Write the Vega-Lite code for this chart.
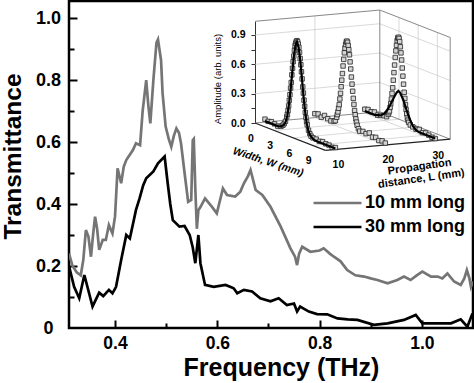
{
  "$schema": "https://vega.github.io/schema/vega-lite/v6.json",
  "width": 404,
  "height": 327,
  "autosize": {"type": "none"},
  "padding": {"left": 69, "top": 1, "right": 1, "bottom": 55},
  "config": {"font": "Liberation Sans", "view": {"stroke": "black", "strokeWidth": 2.5}},
  "datasets": {
    "main": [
      {"s":"10 mm long","f":0.310,"t":0.24},{"s":"10 mm long","f":0.317,"t":0.20},{"s":"10 mm long","f":0.325,"t":0.18},{"s":"10 mm long","f":0.333,"t":0.17},{"s":"10 mm long","f":0.338,"t":0.22},{"s":"10 mm long","f":0.343,"t":0.316},{"s":"10 mm long","f":0.348,"t":0.295},{"s":"10 mm long","f":0.353,"t":0.23},{"s":"10 mm long","f":0.357,"t":0.30},{"s":"10 mm long","f":0.361,"t":0.359},{"s":"10 mm long","f":0.365,"t":0.32},{"s":"10 mm long","f":0.369,"t":0.252},{"s":"10 mm long","f":0.376,"t":0.284},{"s":"10 mm long","f":0.382,"t":0.284},{"s":"10 mm long","f":0.388,"t":0.332},{"s":"10 mm long","f":0.395,"t":0.305},{"s":"10 mm long","f":0.400,"t":0.36},{"s":"10 mm long","f":0.405,"t":0.515},{"s":"10 mm long","f":0.412,"t":0.467},{"s":"10 mm long","f":0.417,"t":0.52},{"s":"10 mm long","f":0.422,"t":0.542},{"s":"10 mm long","f":0.435,"t":0.574},{"s":"10 mm long","f":0.441,"t":0.596},{"s":"10 mm long","f":0.449,"t":0.59},{"s":"10 mm long","f":0.454,"t":0.70},{"s":"10 mm long","f":0.461,"t":0.80},{"s":"10 mm long","f":0.465,"t":0.72},{"s":"10 mm long","f":0.469,"t":0.66},{"s":"10 mm long","f":0.475,"t":0.80},{"s":"10 mm long","f":0.481,"t":0.92},{"s":"10 mm long","f":0.484,"t":0.931},{"s":"10 mm long","f":0.490,"t":0.864},{"s":"10 mm long","f":0.493,"t":0.757},{"s":"10 mm long","f":0.499,"t":0.65},{"s":"10 mm long","f":0.505,"t":0.61},{"s":"10 mm long","f":0.510,"t":0.585},{"s":"10 mm long","f":0.515,"t":0.62},{"s":"10 mm long","f":0.520,"t":0.644},{"s":"10 mm long","f":0.525,"t":0.63},{"s":"10 mm long","f":0.529,"t":0.596},{"s":"10 mm long","f":0.536,"t":0.50},{"s":"10 mm long","f":0.543,"t":0.407},{"s":"10 mm long","f":0.549,"t":0.413},{"s":"10 mm long","f":0.552,"t":0.606},{"s":"10 mm long","f":0.554,"t":0.61},{"s":"10 mm long","f":0.557,"t":0.45},{"s":"10 mm long","f":0.560,"t":0.32},{"s":"10 mm long","f":0.563,"t":0.38},{"s":"10 mm long","f":0.567,"t":0.39},{"s":"10 mm long","f":0.576,"t":0.418},{"s":"10 mm long","f":0.590,"t":0.39},{"s":"10 mm long","f":0.599,"t":0.37},{"s":"10 mm long","f":0.611,"t":0.45},{"s":"10 mm long","f":0.619,"t":0.429},{"s":"10 mm long","f":0.635,"t":0.424},{"s":"10 mm long","f":0.645,"t":0.44},{"s":"10 mm long","f":0.652,"t":0.467},{"s":"10 mm long","f":0.660,"t":0.49},{"s":"10 mm long","f":0.665,"t":0.51},{"s":"10 mm long","f":0.675,"t":0.445},{"s":"10 mm long","f":0.688,"t":0.429},{"s":"10 mm long","f":0.704,"t":0.391},{"s":"10 mm long","f":0.724,"t":0.327},{"s":"10 mm long","f":0.743,"t":0.257},{"s":"10 mm long","f":0.752,"t":0.23},{"s":"10 mm long","f":0.756,"t":0.203},{"s":"10 mm long","f":0.760,"t":0.24},{"s":"10 mm long","f":0.766,"t":0.262},{"s":"10 mm long","f":0.782,"t":0.246},{"s":"10 mm long","f":0.800,"t":0.25},{"s":"10 mm long","f":0.808,"t":0.257},{"s":"10 mm long","f":0.820,"t":0.24},{"s":"10 mm long","f":0.828,"t":0.23},{"s":"10 mm long","f":0.841,"t":0.215},{"s":"10 mm long","f":0.854,"t":0.187},{"s":"10 mm long","f":0.870,"t":0.17},{"s":"10 mm long","f":0.887,"t":0.166},{"s":"10 mm long","f":0.900,"t":0.16},{"s":"10 mm long","f":0.913,"t":0.155},{"s":"10 mm long","f":0.933,"t":0.144},{"s":"10 mm long","f":0.952,"t":0.155},{"s":"10 mm long","f":0.965,"t":0.166},{"s":"10 mm long","f":0.978,"t":0.155},{"s":"10 mm long","f":0.990,"t":0.17},{"s":"10 mm long","f":1.001,"t":0.182},{"s":"10 mm long","f":1.018,"t":0.166},{"s":"10 mm long","f":1.031,"t":0.166},{"s":"10 mm long","f":1.040,"t":0.16},{"s":"10 mm long","f":1.050,"t":0.176},{"s":"10 mm long","f":1.063,"t":0.15},{"s":"10 mm long","f":1.076,"t":0.139},{"s":"10 mm long","f":1.083,"t":0.16},{"s":"10 mm long","f":1.088,"t":0.187},{"s":"10 mm long","f":1.093,"t":0.16},{"s":"10 mm long","f":1.096,"t":0.133},{"s":"10 mm long","f":1.100,"t":0.15},
      {"s":"30 mm long","f":0.310,"t":0.20},{"s":"30 mm long","f":0.320,"t":0.133},{"s":"30 mm long","f":0.330,"t":0.096},{"s":"30 mm long","f":0.340,"t":0.171},{"s":"30 mm long","f":0.346,"t":0.133},{"s":"30 mm long","f":0.356,"t":0.069},{"s":"30 mm long","f":0.362,"t":0.09},{"s":"30 mm long","f":0.369,"t":0.114},{"s":"30 mm long","f":0.377,"t":0.103},{"s":"30 mm long","f":0.388,"t":0.123},{"s":"30 mm long","f":0.395,"t":0.112},{"s":"30 mm long","f":0.402,"t":0.133},{"s":"30 mm long","f":0.412,"t":0.219},{"s":"30 mm long","f":0.422,"t":0.30},{"s":"30 mm long","f":0.429,"t":0.289},{"s":"30 mm long","f":0.441,"t":0.381},{"s":"30 mm long","f":0.448,"t":0.418},{"s":"30 mm long","f":0.455,"t":0.46},{"s":"30 mm long","f":0.461,"t":0.483},{"s":"30 mm long","f":0.475,"t":0.505},{"s":"30 mm long","f":0.484,"t":0.531},{"s":"30 mm long","f":0.497,"t":0.553},{"s":"30 mm long","f":0.503,"t":0.467},{"s":"30 mm long","f":0.508,"t":0.40},{"s":"30 mm long","f":0.513,"t":0.348},{"s":"30 mm long","f":0.526,"t":0.327},{"s":"30 mm long","f":0.536,"t":0.329},{"s":"30 mm long","f":0.546,"t":0.30},{"s":"30 mm long","f":0.552,"t":0.26},{"s":"30 mm long","f":0.557,"t":0.209},{"s":"30 mm long","f":0.563,"t":0.30},{"s":"30 mm long","f":0.567,"t":0.209},{"s":"30 mm long","f":0.576,"t":0.139},{"s":"30 mm long","f":0.593,"t":0.133},{"s":"30 mm long","f":0.616,"t":0.139},{"s":"30 mm long","f":0.625,"t":0.133},{"s":"30 mm long","f":0.632,"t":0.128},{"s":"30 mm long","f":0.639,"t":0.112},{"s":"30 mm long","f":0.652,"t":0.123},{"s":"30 mm long","f":0.668,"t":0.118},{"s":"30 mm long","f":0.684,"t":0.096},{"s":"30 mm long","f":0.704,"t":0.086},{"s":"30 mm long","f":0.720,"t":0.096},{"s":"30 mm long","f":0.736,"t":0.074},{"s":"30 mm long","f":0.750,"t":0.079},{"s":"30 mm long","f":0.756,"t":0.053},{"s":"30 mm long","f":0.762,"t":0.069},{"s":"30 mm long","f":0.779,"t":0.053},{"s":"30 mm long","f":0.795,"t":0.045},{"s":"30 mm long","f":0.815,"t":0.044},{"s":"30 mm long","f":0.835,"t":0.031},{"s":"30 mm long","f":0.855,"t":0.028},{"s":"30 mm long","f":0.874,"t":0.026},{"s":"30 mm long","f":0.906,"t":0.01},{"s":"30 mm long","f":0.933,"t":0.015},{"s":"30 mm long","f":0.965,"t":0.026},{"s":"30 mm long","f":0.988,"t":0.042},{"s":"30 mm long","f":1.001,"t":0.015},{"s":"30 mm long","f":1.031,"t":0.015},{"s":"30 mm long","f":1.057,"t":0.015},{"s":"30 mm long","f":1.076,"t":0.028},{"s":"30 mm long","f":1.089,"t":0.004},{"s":"30 mm long","f":1.099,"t":0.047}
    ],
    "edges": [
      {"g":"b1","k":"box","W":0,"L":8,"A":1.04},{"g":"b1","k":"box","W":0,"L":33,"A":1.04},
      {"g":"b2","k":"box","W":0,"L":33,"A":0},{"g":"b2","k":"box","W":0,"L":33,"A":1.04},
      {"g":"b3","k":"box","W":0,"L":33,"A":1.04},{"g":"b3","k":"box","W":11,"L":33,"A":1.04},
      {"g":"b4","k":"box","W":11,"L":33,"A":0},{"g":"b4","k":"box","W":11,"L":33,"A":1.04},
      {"g":"b5","k":"box","W":0,"L":8,"A":0},{"g":"b5","k":"box","W":0,"L":33,"A":0},
      {"g":"b6","k":"box","W":0,"L":33,"A":0},{"g":"b6","k":"box","W":11,"L":33,"A":0},
      {"g":"a1","k":"axis","W":0,"L":8,"A":0},{"g":"a1","k":"axis","W":11,"L":8,"A":0},
      {"g":"a2","k":"axis","W":11,"L":8,"A":0},{"g":"a2","k":"axis","W":11,"L":33,"A":0},
      {"g":"g1","k":"grid","W":0,"L":8,"A":0.3},{"g":"g1","k":"grid","W":0,"L":33,"A":0.3},
      {"g":"g2","k":"grid","W":0,"L":8,"A":0.6},{"g":"g2","k":"grid","W":0,"L":33,"A":0.6},
      {"g":"g3","k":"grid","W":0,"L":8,"A":0.9},{"g":"g3","k":"grid","W":0,"L":33,"A":0.9},
      {"g":"g4","k":"grid","W":0,"L":20,"A":0},{"g":"g4","k":"grid","W":0,"L":20,"A":1.04},
      {"g":"g6","k":"grid","W":0,"L":33,"A":0.3},{"g":"g6","k":"grid","W":11,"L":33,"A":0.3},
      {"g":"g7","k":"grid","W":0,"L":33,"A":0.6},{"g":"g7","k":"grid","W":11,"L":33,"A":0.6},
      {"g":"g8","k":"grid","W":0,"L":33,"A":0.9},{"g":"g8","k":"grid","W":11,"L":33,"A":0.9},
      {"g":"g9","k":"grid","W":3,"L":33,"A":0},{"g":"g9","k":"grid","W":3,"L":33,"A":1.04},
      {"g":"g10","k":"grid","W":6,"L":33,"A":0},{"g":"g10","k":"grid","W":6,"L":33,"A":1.04},
      {"g":"g11","k":"grid","W":9,"L":33,"A":0},{"g":"g11","k":"grid","W":9,"L":33,"A":1.04},
      {"g":"g12","k":"grid","W":3,"L":8,"A":0},{"g":"g12","k":"grid","W":3,"L":33,"A":0},
      {"g":"g13","k":"grid","W":6,"L":8,"A":0},{"g":"g13","k":"grid","W":6,"L":33,"A":0},
      {"g":"g14","k":"grid","W":9,"L":8,"A":0},{"g":"g14","k":"grid","W":9,"L":33,"A":0},
      {"g":"g15","k":"grid","W":0,"L":20,"A":0},{"g":"g15","k":"grid","W":11,"L":20,"A":0},
      {"g":"g16","k":"grid","W":0,"L":30,"A":0},{"g":"g16","k":"grid","W":11,"L":30,"A":0}
    ],
    "pts": [
      {"L":30,"W":0,"A":0.04},{"L":30,"W":0.5,"A":0.05},{"L":30,"W":1,"A":0.04},{"L":30,"W":1.5,"A":0.05},{"L":30,"W":2,"A":0.03},{"L":30,"W":2.5,"A":0.04},{"L":30,"W":3,"A":0.05},{"L":30,"W":3.4,"A":0.05},{"L":30,"W":3.65,"A":0.08},{"L":30,"W":3.75,"A":0.10},{"L":30,"W":3.85,"A":0.12},{"L":30,"W":3.95,"A":0.16},{"L":30,"W":4.05,"A":0.2},{"L":30,"W":4.15,"A":0.25},{"L":30,"W":4.25,"A":0.31},{"L":30,"W":4.35,"A":0.37},{"L":30,"W":4.45,"A":0.45},{"L":30,"W":4.55,"A":0.53},{"L":30,"W":4.65,"A":0.61},{"L":30,"W":4.75,"A":0.69},{"L":30,"W":4.85,"A":0.76},{"L":30,"W":4.95,"A":0.82},{"L":30,"W":5.05,"A":0.87},{"L":30,"W":5.15,"A":0.90},{"L":30,"W":5.25,"A":0.91},{"L":30,"W":5.35,"A":0.90},{"L":30,"W":5.45,"A":0.87},{"L":30,"W":5.55,"A":0.82},{"L":30,"W":5.65,"A":0.76},{"L":30,"W":5.75,"A":0.69},{"L":30,"W":5.85,"A":0.61},{"L":30,"W":5.95,"A":0.53},{"L":30,"W":6.05,"A":0.45},{"L":30,"W":6.15,"A":0.37},{"L":30,"W":6.25,"A":0.31},{"L":30,"W":6.35,"A":0.25},{"L":30,"W":6.45,"A":0.2},{"L":30,"W":6.55,"A":0.16},{"L":30,"W":6.65,"A":0.12},{"L":30,"W":6.75,"A":0.10},{"L":30,"W":6.85,"A":0.08},{"L":30,"W":7.1,"A":0.06},{"L":30,"W":7.5,"A":0.05},{"L":30,"W":8,"A":0.04},{"L":30,"W":8.5,"A":0.05},{"L":30,"W":9,"A":0.03},{"L":30,"W":9.5,"A":0.04},{"L":30,"W":10,"A":0.03},{"L":30,"W":10.5,"A":0.02},{"L":30,"W":11,"A":0.02},
      {"L":20,"W":0,"A":0.04},{"L":20,"W":0.5,"A":0.05},{"L":20,"W":1,"A":0.03},{"L":20,"W":1.5,"A":0.06},{"L":20,"W":2,"A":0.04},{"L":20,"W":2.5,"A":0.03},{"L":20,"W":3,"A":0.04},{"L":20,"W":3.2,"A":0.05},{"L":20,"W":3.4,"A":0.09},{"L":20,"W":3.5,"A":0.12},{"L":20,"W":3.6,"A":0.15},{"L":20,"W":3.7,"A":0.19},{"L":20,"W":3.8,"A":0.23},{"L":20,"W":3.9,"A":0.29},{"L":20,"W":4.0,"A":0.35},{"L":20,"W":4.1,"A":0.42},{"L":20,"W":4.2,"A":0.49},{"L":20,"W":4.3,"A":0.56},{"L":20,"W":4.4,"A":0.64},{"L":20,"W":4.5,"A":0.71},{"L":20,"W":4.6,"A":0.78},{"L":20,"W":4.7,"A":0.83},{"L":20,"W":4.8,"A":0.87},{"L":20,"W":4.9,"A":0.90},{"L":20,"W":5.0,"A":0.91},{"L":20,"W":5.1,"A":0.90},{"L":20,"W":5.2,"A":0.87},{"L":20,"W":5.3,"A":0.83},{"L":20,"W":5.4,"A":0.78},{"L":20,"W":5.5,"A":0.71},{"L":20,"W":5.6,"A":0.64},{"L":20,"W":5.7,"A":0.56},{"L":20,"W":5.8,"A":0.49},{"L":20,"W":5.9,"A":0.42},{"L":20,"W":6.0,"A":0.35},{"L":20,"W":6.1,"A":0.29},{"L":20,"W":6.2,"A":0.23},{"L":20,"W":6.3,"A":0.19},{"L":20,"W":6.4,"A":0.15},{"L":20,"W":6.5,"A":0.12},{"L":20,"W":6.6,"A":0.09},{"L":20,"W":6.8,"A":0.06},{"L":20,"W":7.0,"A":0.04},{"L":20,"W":7.5,"A":0.05},{"L":20,"W":8,"A":0.04},{"L":20,"W":8.5,"A":0.06},{"L":20,"W":9,"A":0.03},{"L":20,"W":9.5,"A":0.04},{"L":20,"W":10,"A":0.02},{"L":20,"W":10.5,"A":0.03},{"L":20,"W":11,"A":0.02},
      {"L":10,"W":0,"A":0.03},{"L":10,"W":0.5,"A":0.02},{"L":10,"W":1,"A":0.03},{"L":10,"W":1.5,"A":0.02},{"L":10,"W":2,"A":0.01},{"L":10,"W":2.5,"A":0.02},{"L":10,"W":2.8,"A":0.04},{"L":10,"W":3.0,"A":0.06},{"L":10,"W":3.2,"A":0.09},{"L":10,"W":3.4,"A":0.14},{"L":10,"W":3.5,"A":0.17},{"L":10,"W":3.6,"A":0.21},{"L":10,"W":3.7,"A":0.26},{"L":10,"W":3.8,"A":0.32},{"L":10,"W":3.9,"A":0.38},{"L":10,"W":4.0,"A":0.45},{"L":10,"W":4.1,"A":0.51},{"L":10,"W":4.2,"A":0.59},{"L":10,"W":4.3,"A":0.66},{"L":10,"W":4.4,"A":0.73},{"L":10,"W":4.5,"A":0.79},{"L":10,"W":4.6,"A":0.85},{"L":10,"W":4.7,"A":0.90},{"L":10,"W":4.8,"A":0.93},{"L":10,"W":4.9,"A":0.95},{"L":10,"W":5.0,"A":0.96},{"L":10,"W":5.1,"A":0.95},{"L":10,"W":5.2,"A":0.93},{"L":10,"W":5.3,"A":0.90},{"L":10,"W":5.4,"A":0.85},{"L":10,"W":5.5,"A":0.79},{"L":10,"W":5.6,"A":0.73},{"L":10,"W":5.7,"A":0.66},{"L":10,"W":5.8,"A":0.59},{"L":10,"W":5.9,"A":0.51},{"L":10,"W":6.0,"A":0.45},{"L":10,"W":6.1,"A":0.38},{"L":10,"W":6.2,"A":0.32},{"L":10,"W":6.3,"A":0.26},{"L":10,"W":6.4,"A":0.21},{"L":10,"W":6.5,"A":0.17},{"L":10,"W":6.6,"A":0.14},{"L":10,"W":6.8,"A":0.09},{"L":10,"W":7.0,"A":0.06},{"L":10,"W":7.2,"A":0.04},{"L":10,"W":7.5,"A":0.03},{"L":10,"W":8,"A":0.03},{"L":10,"W":8.5,"A":0.02},{"L":10,"W":9,"A":0.03},{"L":10,"W":9.5,"A":0.02},{"L":10,"W":10,"A":0.02},{"L":10,"W":10.5,"A":0.01},{"L":10,"W":11,"A":0.02}
    ],
    "fits": [
      {"L":10,"W":0,"A":0.01},{"L":10,"W":1,"A":0.01},{"L":10,"W":2,"A":0.01},{"L":10,"W":2.5,"A":0.02},{"L":10,"W":3,"A":0.05},{"L":10,"W":3.25,"A":0.09},{"L":10,"W":3.5,"A":0.16},{"L":10,"W":3.75,"A":0.28},{"L":10,"W":4,"A":0.43},{"L":10,"W":4.25,"A":0.61},{"L":10,"W":4.5,"A":0.78},{"L":10,"W":4.75,"A":0.9},{"L":10,"W":5,"A":0.95},{"L":10,"W":5.25,"A":0.9},{"L":10,"W":5.5,"A":0.78},{"L":10,"W":5.75,"A":0.61},{"L":10,"W":6,"A":0.43},{"L":10,"W":6.25,"A":0.28},{"L":10,"W":6.5,"A":0.16},{"L":10,"W":6.75,"A":0.09},{"L":10,"W":7,"A":0.05},{"L":10,"W":7.5,"A":0.02},{"L":10,"W":8,"A":0.01},{"L":10,"W":9,"A":0.01},{"L":10,"W":11,"A":0.01},
      {"L":30,"W":0,"A":0.02},{"L":30,"W":1,"A":0.02},{"L":30,"W":1.5,"A":0.02},{"L":30,"W":2,"A":0.03},{"L":30,"W":2.5,"A":0.04},{"L":30,"W":3,"A":0.07},{"L":30,"W":3.5,"A":0.12},{"L":30,"W":4,"A":0.19},{"L":30,"W":4.5,"A":0.27},{"L":30,"W":5,"A":0.34},{"L":30,"W":5.25,"A":0.36},{"L":30,"W":5.5,"A":0.35},{"L":30,"W":6,"A":0.29},{"L":30,"W":6.5,"A":0.2},{"L":30,"W":7,"A":0.12},{"L":30,"W":7.5,"A":0.06},{"L":30,"W":8,"A":0.03},{"L":30,"W":8.5,"A":0.02},{"L":30,"W":9,"A":0.02},{"L":30,"W":11,"A":0.02}
    ],
    "wlab": [{"t":"0","W":0,"L":8,"A":0},{"t":"3","W":3,"L":8,"A":0},{"t":"6","W":6,"L":8,"A":0},{"t":"9","W":9,"L":8,"A":0}],
    "llab": [{"t":"10","W":11,"L":10,"A":0},{"t":"20","W":11,"L":20,"A":0},{"t":"30","W":11,"L":30,"A":0}],
    "atitle": [{"t":"Amplitude (arb. units)","W":0,"L":8,"A":0.45}],
    "wtitle": [{"t":"Width, W (mm)","W":3,"L":8,"A":0}],
    "ltitle": [{"t":"Propagation","W":11,"L":20,"A":0,"r":1},{"t":"distance, L (mm)","W":11,"L":20,"A":0,"r":2}]
  },
  "layer": [
    {
      "data": {"name": "main"},
      "layer": [
        {
          "mark": {"type": "line", "strokeWidth": 2.7, "clip": true},
          "encoding": {
            "x": {"field": "f", "type": "quantitative", "scale": {"domain": [0.31, 1.1], "nice": false, "zero": false},
              "axis": {"orient": "bottom", "values": [0.4, 0.6, 0.8, 1.0], "format": ".1f", "ticks": false, "domain": false, "grid": false, "labelFlush": false, "labelFontSize": 17.5, "labelFontWeight": "bold", "labelColor": "black", "labelPadding": 6, "title": "Frequency (THz)", "titleFontSize": 25, "titleFontWeight": "bold", "titleColor": "black", "titleX": 212, "titleY": 47, "titleBaseline": "alphabetic", "titleAlign": "center"}},
            "y": {"field": "t", "type": "quantitative", "scale": {"domain": [0, 1.055], "nice": false, "zero": false},
              "axis": {"orient": "left", "values": [0, 0.2, 0.4, 0.6, 0.8, 1.0], "labelExpr": "datum.value == 0 ? '0' : format(datum.value, '.1f')", "ticks": false, "domain": false, "grid": false, "labelFlush": false, "labelFontSize": 18, "labelFontWeight": "bold", "labelColor": "black", "labelAlign": "center", "labelBaseline": "middle", "labelPadding": 21, "title": "Transmittance", "titleFontSize": 24.5, "titleFontWeight": "bold", "titleColor": "black", "titleX": -49, "titleY": 155, "titleAngle": -90, "titleBaseline": "alphabetic", "titleAlign": "center"}},
            "color": {"field": "s", "type": "nominal", "scale": {"domain": ["10 mm long", "30 mm long"], "range": ["#757575", "#000000"]},
              "legend": {"orient": "none", "legendX": 243, "legendY": 190, "title": null, "symbolType": "stroke", "symbolSize": 2300, "symbolStrokeWidth": 2.5, "clipHeight": 24, "labelFontSize": 18, "labelFontWeight": "bold", "labelColor": "black", "labelOffset": 2, "rowPadding": 0, "labelLimit": 300, "padding": 0}}
          }
        },
        {
          "mark": {"type": "point", "opacity": 0},
          "encoding": {
            "x": {"field": "f", "type": "quantitative", "scale": {"domain": [0.31, 1.1], "nice": false, "zero": false},
              "axis": {"orient": "bottom", "values": [0.4, 0.6, 0.8, 1.0], "labels": false, "domain": false, "grid": false, "tickSize": -8, "tickWidth": 2, "tickColor": "black", "title": null}},
            "y": {"field": "t", "type": "quantitative", "scale": {"domain": [0, 1.055], "nice": false, "zero": false},
              "axis": {"orient": "left", "values": [0.2, 0.4, 0.6, 0.8, 1.0], "labels": false, "domain": false, "grid": false, "tickSize": -8, "tickWidth": 2, "tickColor": "black", "title": null}}
          }
        },
        {
          "mark": {"type": "point", "opacity": 0},
          "encoding": {
            "x": {"field": "f", "type": "quantitative", "scale": {"domain": [0.31, 1.1], "nice": false, "zero": false},
              "axis": {"orient": "bottom", "values": [0.5, 0.7, 0.9], "labels": false, "domain": false, "grid": false, "tickSize": -5, "tickWidth": 2, "tickColor": "black", "title": null}},
            "y": {"field": "t", "type": "quantitative", "scale": {"domain": [0, 1.055], "nice": false, "zero": false},
              "axis": {"orient": "left", "values": [0.1, 0.3, 0.5, 0.7, 0.9], "labels": false, "domain": false, "grid": false, "tickSize": -5, "tickWidth": 2, "tickColor": "black", "title": null}}
          }
        }
      ],
      "resolve": {"axis": {"x": "independent", "y": "independent"}}
    },
    {
      "encoding": {
        "x": {"field": "u", "type": "quantitative", "scale": {"domain": [0, 30], "range": [186, 378], "nice": false, "zero": false}, "axis": null},
        "y": {"field": "v", "type": "quantitative", "scale": {"domain": [0, 1.04], "range": [122, 20.3], "nice": false, "zero": false},
          "axis": {"orient": "left", "offset": -186, "values": [0, 0.15, 0.3, 0.45, 0.6, 0.75, 0.9], "labelExpr": "round(datum.value*100) % 30 == 0 ? format(datum.value, '.1f') : ''", "grid": false, "tickSize": 4, "tickColor": "#333", "domainColor": "#333", "labelFontSize": 10.5, "labelFontWeight": "bold", "labelColor": "black", "labelPadding": 6, "labelFlush": false, "title": null}}
      },
      "layer": [
        {
          "data": {"name": "edges"},
          "transform": [{"filter": "datum.k == 'grid'"}, {"calculate": "datum.W + 0.78*(datum.L-8)", "as": "u"}, {"calculate": "datum.A - 0.0255*datum.W + 0.0046*(datum.L-8)", "as": "v"}],
          "mark": {"type": "line", "color": "#c8c8c8", "strokeWidth": 0.7},
          "encoding": {"detail": {"field": "g"}}
        },
        {
          "data": {"name": "edges"},
          "transform": [{"filter": "datum.k == 'box'"}, {"calculate": "datum.W + 0.78*(datum.L-8)", "as": "u"}, {"calculate": "datum.A - 0.0255*datum.W + 0.0046*(datum.L-8)", "as": "v"}],
          "mark": {"type": "line", "color": "#888888", "strokeWidth": 1},
          "encoding": {"detail": {"field": "g"}}
        },
        {
          "data": {"name": "edges"},
          "transform": [{"filter": "datum.k == 'axis'"}, {"calculate": "datum.W + 0.78*(datum.L-8)", "as": "u"}, {"calculate": "datum.A - 0.0255*datum.W + 0.0046*(datum.L-8)", "as": "v"}],
          "mark": {"type": "line", "color": "#222222", "strokeWidth": 1.2},
          "encoding": {"detail": {"field": "g"}}
        },
        {
          "data": {"name": "pts"},
          "transform": [{"calculate": "datum.W + 0.78*(datum.L-8)", "as": "u"}, {"calculate": "datum.A - 0.0255*datum.W + 0.0046*(datum.L-8)", "as": "v"}],
          "mark": {"type": "point", "shape": "square", "size": 20, "filled": true, "fill": "#d4d4d4", "stroke": "#222222", "strokeWidth": 0.8, "opacity": 1}
        },
        {
          "data": {"name": "fits"},
          "transform": [{"calculate": "datum.W + 0.78*(datum.L-8)", "as": "u"}, {"calculate": "datum.A - 0.0255*datum.W + 0.0046*(datum.L-8)", "as": "v"}],
          "mark": {"type": "line", "color": "black", "strokeWidth": 2.2},
          "encoding": {"detail": {"field": "L"}}
        },
        {
          "data": {"name": "atitle"},
          "transform": [{"calculate": "datum.W + 0.78*(datum.L-8)", "as": "u"}, {"calculate": "datum.A - 0.0255*datum.W + 0.0046*(datum.L-8)", "as": "v"}],
          "mark": {"type": "text", "fontSize": 9.5, "color": "black", "angle": -90, "dx": 0, "dy": -37, "align": "center", "baseline": "middle"},
          "encoding": {"text": {"field": "t"}}
        },
        {
          "data": {"name": "wlab"},
          "transform": [{"calculate": "datum.W + 0.78*(datum.L-8)", "as": "u"}, {"calculate": "datum.A - 0.0255*datum.W + 0.0046*(datum.L-8)", "as": "v"}],
          "mark": {"type": "text", "fontSize": 10.5, "fontWeight": "bold", "color": "black", "dx": -4, "dy": 16, "align": "center", "baseline": "middle"},
          "encoding": {"text": {"field": "t"}}
        },
        {
          "data": {"name": "llab"},
          "transform": [{"calculate": "datum.W + 0.78*(datum.L-8)", "as": "u"}, {"calculate": "datum.A - 0.0255*datum.W + 0.0046*(datum.L-8)", "as": "v"}],
          "mark": {"type": "text", "fontSize": 10.5, "fontWeight": "bold", "color": "black", "dx": 3, "dy": 15, "align": "center", "baseline": "middle"},
          "encoding": {"text": {"field": "t"}}
        },
        {
          "data": {"name": "wtitle"},
          "transform": [{"calculate": "datum.W + 0.78*(datum.L-8)", "as": "u"}, {"calculate": "datum.A - 0.0255*datum.W + 0.0046*(datum.L-8)", "as": "v"}],
          "mark": {"type": "text", "fontSize": 10.5, "fontWeight": "bold", "fontStyle": "italic", "color": "black", "angle": 18, "dx": 4, "dy": 32, "align": "center", "baseline": "middle"},
          "encoding": {"text": {"field": "t"}}
        },
        {
          "data": {"name": "ltitle"},
          "transform": [{"filter": "datum.r == 1"}, {"calculate": "datum.W + 0.78*(datum.L-8)", "as": "u"}, {"calculate": "datum.A - 0.0255*datum.W + 0.0046*(datum.L-8)", "as": "v"}],
          "mark": {"type": "text", "fontSize": 11, "fontWeight": "bold", "color": "black", "angle": -8, "dx": 31, "dy": 26.5, "align": "center", "baseline": "middle"},
          "encoding": {"text": {"field": "t"}}
        },
        {
          "data": {"name": "ltitle"},
          "transform": [{"filter": "datum.r == 2"}, {"calculate": "datum.W + 0.78*(datum.L-8)", "as": "u"}, {"calculate": "datum.A - 0.0255*datum.W + 0.0046*(datum.L-8)", "as": "v"}],
          "mark": {"type": "text", "fontSize": 11, "fontWeight": "bold", "color": "black", "angle": -8, "dx": 31, "dy": 38.5, "align": "center", "baseline": "middle"},
          "encoding": {"text": {"field": "t"}}
        }
      ]
    }
  ],
  "resolve": {"scale": {"x": "independent", "y": "independent"}, "axis": {"x": "independent", "y": "independent"}}
}
